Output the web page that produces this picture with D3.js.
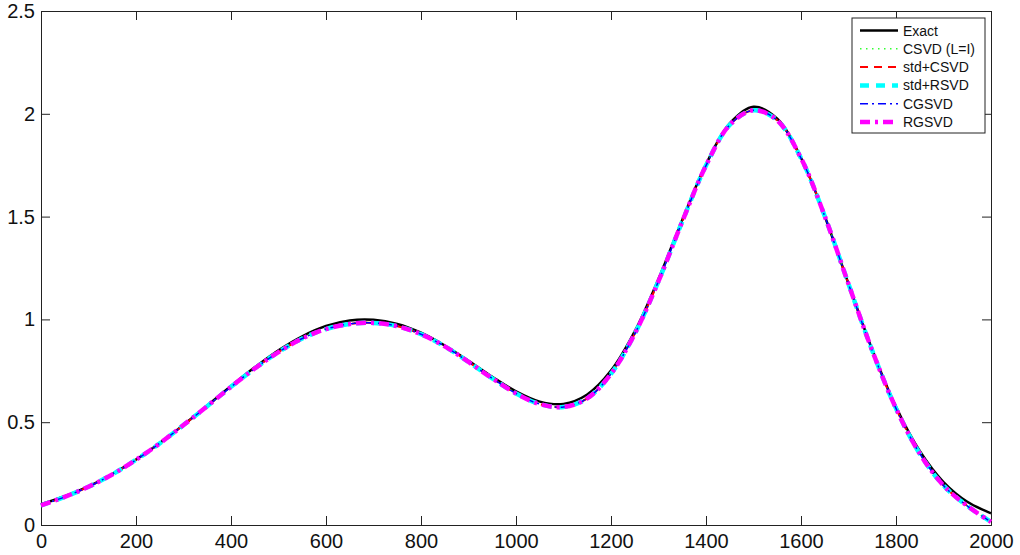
<!DOCTYPE html>
<html>
<head>
<meta charset="utf-8">
<script src="https://cdn.jsdelivr.net/npm/d3@7"></script>
<style>
  body { margin: 0; background: #fff; }
  #chart { width: 1020px; height: 555px; }
  text { font-family: "Liberation Sans", Arial, Helvetica, sans-serif; fill: #111; }
</style>
</head>
<body>
<div id="chart"></div>
<script>
var width = 1020;
var height = 555;
var margin = {top: 11, left: 41, right: 29, bottom: 30};

// sample positions
var xs = [0, 50, 100, 150, 200, 250, 300, 350, 400, 450, 500, 550, 600, 650, 700, 750, 800, 850, 900, 950,
          1000, 1050, 1100, 1150, 1200, 1250, 1300, 1350, 1400, 1450, 1500, 1550, 1600, 1650, 1700, 1750, 1800,
          1850, 1900, 1950, 2000];

// exact solution
var exactValues = [0.101, 0.140, 0.188, 0.248, 0.318, 0.399, 0.487, 0.581, 0.676, 0.767, 0.850, 0.918, 0.968,
                   0.995, 0.998, 0.978, 0.935, 0.873, 0.799, 0.721, 0.650, 0.600, 0.589, 0.635, 0.751, 0.942,
                   1.197, 1.484, 1.754, 1.953, 2.034, 1.976, 1.786, 1.502, 1.173, 0.852, 0.575, 0.360, 0.209,
                   0.113, 0.057];

// CSVD (L=I) - green dotted
var csvdValues = [0.097, 0.138, 0.187, 0.247, 0.317, 0.398, 0.486, 0.579, 0.673, 0.763, 0.844, 0.910, 0.956,
                  0.981, 0.985, 0.969, 0.930, 0.870, 0.795, 0.715, 0.642, 0.590, 0.576, 0.618, 0.738, 0.932,
                  1.188, 1.477, 1.750, 1.948, 2.020, 1.970, 1.786, 1.503, 1.172, 0.847, 0.565, 0.345, 0.190,
                  0.092, 0.018];

// regularized variants (std+CSVD, std+RSVD, CGSVD, RGSVD) - nearly coincide
var gsvdValues = [0.095, 0.137, 0.186, 0.246, 0.317, 0.397, 0.486, 0.578, 0.672, 0.761, 0.841, 0.907, 0.953,
                  0.978, 0.983, 0.967, 0.928, 0.869, 0.793, 0.713, 0.640, 0.588, 0.574, 0.616, 0.735, 0.930,
                  1.186, 1.476, 1.748, 1.946, 2.017, 1.968, 1.784, 1.502, 1.172, 0.848, 0.567, 0.347, 0.192,
                  0.093, 0.015];

var xTicks = [0, 200, 400, 600, 800, 1000, 1200, 1400, 1600, 1800, 2000];
var yTicks = [0, 0.5, 1, 1.5, 2, 2.5];

var series = [
    {name: "Exact",        values: exactValues, color: "#000000", width: 2.5, dash: null},
    {name: "CSVD (L=I)",   values: csvdValues,  color: "#33ff33", width: 1.5, dash: "1.5,4.5"},
    {name: "std+CSVD",     values: gsvdValues,  color: "#ff0000", width: 2,   dash: "8,6"},
    {name: "std+RSVD",     values: gsvdValues,  color: "#00ffff", width: 4.5, dash: "9,7"},
    {name: "CGSVD",        values: gsvdValues,  color: "#0000ff", width: 1.5, dash: "8,4,2,4"},
    {name: "RGSVD",        values: gsvdValues,  color: "#ff00ff", width: 4.5, dash: "10,5,3,5"}
];

var svg = d3.select("#chart")
    .append("svg")
    .attr("width", width)
    .attr("height", height);

var xScale = d3.scaleLinear()
    .domain([0, 2000])
    .range([margin.left, width - margin.right]);

var yScale = d3.scaleLinear()
    .domain([0, 2.5])
    .range([height - margin.bottom, margin.top]);

var x0 = xScale.range()[0], x1 = xScale.range()[1];
var y0 = yScale.range()[0], y1 = yScale.range()[1];

// axes, ticks pointing inward, mirrored on top and right
svg.append("g")
    .attr("class", "x axis")
    .attr("transform", `translate(0,${y0})`)
    .call(d3.axisBottom(xScale).tickValues(xTicks).tickSize(-9).tickPadding(19).tickFormat(d3.format("d")));

svg.append("g")
    .attr("class", "x axis top")
    .attr("transform", `translate(0,${y1})`)
    .call(d3.axisTop(xScale).tickValues(xTicks).tickSize(-9).tickFormat(""));

svg.append("g")
    .attr("class", "y axis")
    .attr("transform", `translate(${x0},0)`)
    .call(d3.axisLeft(yScale).tickValues(yTicks).tickSize(-9).tickPadding(6).tickFormat(d3.format("")));

svg.append("g")
    .attr("class", "y axis right")
    .attr("transform", `translate(${x1},0)`)
    .call(d3.axisRight(yScale).tickValues(yTicks).tickSize(-9).tickFormat(""));

svg.selectAll(".axis path, .axis line").attr("stroke", "#222").attr("stroke-width", 1);
svg.selectAll(".axis text").style("font-size", "20px").attr("fill", "#111");
svg.selectAll(".x.axis text").attr("dy", "0.72em").attr("y", 9);

// curves
var line = d3.line()
    .x(function(d, i) { return xScale(xs[i]); })
    .y(function(d) { return yScale(d); })
    .curve(d3.curveCatmullRom);

series.forEach(function(s) {
    svg.append("path")
        .datum(s.values)
        .attr("fill", "none")
        .attr("stroke", s.color)
        .attr("stroke-width", s.width)
        .attr("stroke-dasharray", s.dash)
        .attr("d", line);
});

// legend
var legend = svg.append("g").attr("transform", "translate(852,18)");
legend.append("rect")
    .attr("width", 133)
    .attr("height", 115)
    .attr("fill", "#fff")
    .attr("stroke", "#222")
    .attr("stroke-width", 1);

series.forEach(function(s, i) {
    var yy = 12.5 + i * 18.3;
    legend.append("line")
        .attr("x1", 8).attr("x2", 46)
        .attr("y1", yy).attr("y2", yy)
        .attr("stroke", s.color)
        .attr("stroke-width", s.width)
        .attr("stroke-dasharray", s.dash);
    legend.append("text")
        .attr("x", 51)
        .attr("y", yy)
        .attr("dy", "0.36em")
        .style("font-size", "14px")
        .text(s.name);
});
</script>
</body>
</html>
